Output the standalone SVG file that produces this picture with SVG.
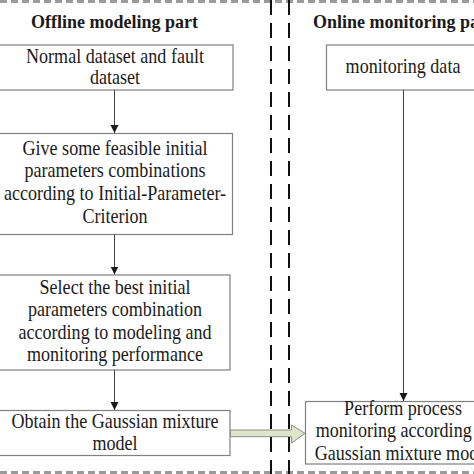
<svg xmlns="http://www.w3.org/2000/svg" width="474" height="474" viewBox="0 0 474 474">
<defs>
<marker id="ah" markerWidth="10" markerHeight="10" refX="8" refY="4" orient="auto" markerUnits="userSpaceOnUse">
<path d="M0,0 L8,4 L0,8 Z" fill="#1a1a1a"/>
</marker>
<style>
.box{fill:#fff;stroke:#808080;stroke-width:1.2}
.t{font-family:"Liberation Serif","Times New Roman",serif;font-size:21px;fill:#1a1a1a;text-anchor:middle}
.title{font-family:"Liberation Serif","Times New Roman",serif;font-size:18px;font-weight:bold;fill:#1a1a1a}
.conn{stroke:#404040;stroke-width:1;fill:none}
.border{stroke:#9a9a9a;stroke-width:3;stroke-dasharray:7 4;fill:none}
.divider{stroke:#111;stroke-width:2;stroke-dasharray:15 8;fill:none}
</style>
</defs>
<rect width="474" height="474" fill="#fff"/>
<line class="border" x1="0" y1="1.5" x2="474" y2="1.5"/>
<line class="border" x1="0" y1="472.5" x2="474" y2="472.5"/>
<text class="title" x="31" y="28">Offline modeling part</text>
<text class="title" x="313" y="28">Online monitoring part</text>
<g id="n1">
<rect class="box" x="-3" y="45" width="236" height="45"/>
<g transform="translate(115 0) scale(0.86 1)">
<text class="t" x="0" y="63">Normal dataset and fault</text>
<text class="t" x="0" y="84">dataset</text>
</g>
</g>
<g id="n2">
<rect class="box" x="-2" y="133.5" width="234.5" height="101"/>
<g transform="translate(115 0) scale(0.86 1)">
<text class="t" x="0" y="155">Give some feasible initial</text>
<text class="t" x="0" y="177.5">parameters combinations</text>
<text class="t" x="0" y="200.5">according to Initial-Parameter-</text>
<text class="t" x="0" y="223">Criterion</text>
</g>
</g>
<g id="n3">
<rect class="box" x="-1" y="275" width="231" height="95"/>
<g transform="translate(115 0) scale(0.86 1)">
<text class="t" x="0" y="294">Select the best initial</text>
<text class="t" x="0" y="316.5">parameters combination</text>
<text class="t" x="0" y="339">according to modeling and</text>
<text class="t" x="0" y="361.5">monitoring performance</text>
</g>
</g>
<g id="n4">
<rect class="box" x="-1" y="410.5" width="231" height="45"/>
<g transform="translate(115 0) scale(0.86 1)">
<text class="t" x="0" y="428.5">Obtain the Gaussian mixture</text>
<text class="t" x="0" y="450">model</text>
</g>
</g>
<g id="n5">
<rect class="box" x="326.5" y="45" width="154" height="45"/>
<g transform="translate(403 0) scale(0.86 1)">
<text class="t" x="0" y="73.5">monitoring data</text>
</g>
</g>
<g id="n6">
<rect class="box" x="305.5" y="401.5" width="195" height="62.5"/>
<g transform="translate(403 0) scale(0.86 1)">
<text class="t" x="0" y="415">Perform process</text>
<text class="t" x="0" y="437.5">monitoring according to</text>
<text class="t" x="0" y="460">Gaussian mixture model</text>
</g>
</g>
<g id="connectors">
<line class="conn" x1="114.5" y1="90" x2="114.5" y2="133" marker-end="url(#ah)"/>
<line class="conn" x1="114.5" y1="234.5" x2="114.5" y2="274.5" marker-end="url(#ah)"/>
<line class="conn" x1="114.5" y1="370" x2="114.5" y2="410" marker-end="url(#ah)"/>
<line class="conn" x1="403.5" y1="90" x2="403.5" y2="401" marker-end="url(#ah)"/>
<path d="M230.5,430 L291.5,430 L291.5,425 L305,433.3 L291.5,443 L291.5,436.7 L230.5,436.7 Z" fill="#dfe4cc" stroke="#8c9080" stroke-width="1"/>
</g>
<line class="divider" x1="271" y1="0" x2="271" y2="474"/>
<line class="divider" x1="289" y1="0" x2="289" y2="474"/>
</svg>
